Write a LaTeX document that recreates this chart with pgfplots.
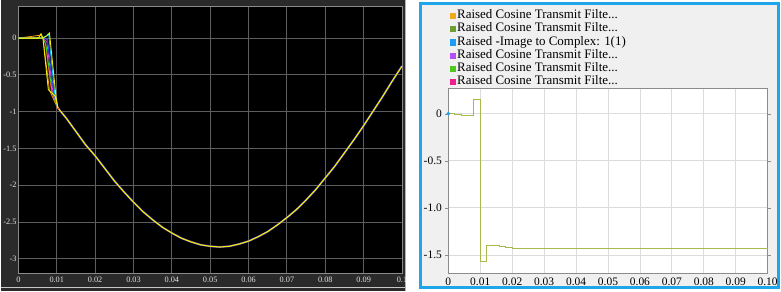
\documentclass[border=0pt]{standalone}
\usepackage{fontspec}
\setmainfont{Liberation Serif}
\usepackage{pgfplots}
\pgfplotsset{compat=1.18}
\usepackage{pgfplotstable}

\definecolor{panelbg}{HTML}{2A2A2A}
\definecolor{scgrid}{HTML}{5E5E5E}
\definecolor{scframe}{HTML}{8A8A8A}
\definecolor{sclabel}{HTML}{E2E2E2}
\definecolor{syel}{HTML}{F0F000}
\definecolor{scyan}{HTML}{00C8FF}
\definecolor{sblue}{HTML}{3050FF}
\definecolor{smag}{HTML}{E040E0}
\definecolor{sred}{HTML}{FF3030}
\definecolor{sgreen}{HTML}{30E030}
\definecolor{sorange}{HTML}{FF9900}
\definecolor{sband}{HTML}{6040D0}
\definecolor{bluebord}{HTML}{1EA5EA}
\definecolor{rpbg}{HTML}{F0F0F0}
\definecolor{rgrid}{HTML}{DCDCDC}
\definecolor{raxis}{HTML}{8C8C8C}
\definecolor{lorange}{HTML}{F0A81C}
\definecolor{lolive}{HTML}{6EA030}
\definecolor{lblue}{HTML}{1E9BF5}
\definecolor{lpurple}{HTML}{B450F0}
\definecolor{lgreen}{HTML}{50C81E}
\definecolor{lpink}{HTML}{F01E8C}
\definecolor{stepcol}{HTML}{A8B84A}

\pgfplotstableread{
x y
0.0103 -0.95
0.0125 -1.09
0.015 -1.27
0.0175 -1.45
0.02 -1.60
0.0225 -1.77
0.025 -1.94
0.0275 -2.09
0.03 -2.23
0.0325 -2.36
0.035 -2.47
0.0375 -2.57
0.04 -2.65
0.0425 -2.72
0.045 -2.77
0.0475 -2.81
0.05 -2.83
0.0525 -2.84
0.055 -2.83
0.0575 -2.80
0.06 -2.76
0.0625 -2.70
0.065 -2.63
0.0675 -2.54
0.07 -2.44
0.0725 -2.33
0.075 -2.20
0.0775 -2.06
0.08 -1.90
0.0825 -1.74
0.085 -1.56
0.0875 -1.38
0.09 -1.19
0.0925 -0.99
0.095 -0.79
0.0975 -0.58
0.1 -0.38
}\tail

\pgfplotstableread{
x y
0 0.0
0.002 -0.01
0.004 -0.025
0.006 -0.015
0.008 0.146
0.01 -1.571
0.012 -1.405
0.0139 -1.395
0.016 -1.41
0.018 -1.42
0.02 -1.43
0.1 -1.43
}\steps

\begin{document}
\begin{tikzpicture}
\path (0bp,0bp) rectangle (781bp,292bp);
\fill[panelbg] (0bp,0bp) rectangle (405bp,292bp);
\draw[gray!60, line width=1bp] (405.5bp,0bp) -- (405.5bp,292bp);
\draw[gray!45, line width=0.8bp] (0bp,4.5bp) -- (405bp,4.5bp);
\draw[bluebord, line width=3bp, fill=rpbg] (420.5bp,3.5bp) rectangle (779.5bp,288.5bp);

\begin{axis}[
  at={(17bp,18bp)}, anchor=south west, scale only axis,
  width=385bp, height=268bp,
  xmin=0, xmax=0.1, ymin=-3.2, ymax=0.43,
  axis background/.style={fill=black},
  grid=major, major grid style={scgrid, line width=0.9bp},
  axis line style={draw=scframe, line width=0.8bp},
  tick style={draw=none},
  xtick={0,0.01,0.02,0.03,0.04,0.05,0.06,0.07,0.08,0.09,0.1},
  xticklabels={0,0.01,0.02,0.03,0.04,0.05,0.06,0.07,0.08,0.09,0.1},
  ytick={-3,-2.5,-2,-1.5,-1,-0.5,0},
  yticklabels={-3,-2.5,-2,-1.5,-1,-0.5,0},
  ticklabel style={font=\fontsize{8.3bp}{10bp}\selectfont, text=sclabel},
  xticklabel style={yshift=0.5bp},
  yticklabel style={xshift=1.5bp},
]
\addplot[sband, line width=1.9bp] table {\tail};
\addplot[syel, line width=1.1bp] table {\tail};
\addplot[sorange, line width=0.8bp] coordinates {(0,0) (0.0058,0.04) (0.0064,0) (0.0081,-0.71) (0.0102,-0.95)};
\addplot[sred, line width=0.8bp] coordinates {(0,0) (0.0064,0) (0.0070,-0.06) (0.0086,-0.72) (0.0105,-0.97)};
\addplot[sgreen, line width=0.8bp] coordinates {(0,0) (0.0064,0) (0.0072,-0.10) (0.0088,-0.74) (0.0103,-0.95)};
\addplot[smag, line width=0.8bp] coordinates {(0,0) (0.0064,0) (0.0074,-0.05) (0.0090,-0.74) (0.0103,-0.95)};
\addplot[sblue, line width=0.8bp] coordinates {(0,0) (0.0064,0) (0.0076,-0.02) (0.0092,-0.75) (0.0103,-0.95)};
\addplot[scyan, line width=0.8bp] coordinates {(0,0) (0.0062,0) (0.0079,0.05) (0.0095,-0.77) (0.0103,-0.95)};
\addplot[syel, line width=0.9bp] coordinates {(0,0) (0.0052,0) (0.0059,0.06) (0.0064,0) (0.0078,-0.70) (0.0096,-0.79) (0.0103,-0.95)};
\addplot[syel, line width=0.9bp] coordinates {(0,0) (0.0064,0) (0.0074,0.03) (0.0081,0.07) (0.0098,-0.80) (0.0103,-0.95)};
\end{axis}

\begin{axis}[
  at={(448.5bp,18.7bp)}, anchor=south west, scale only axis,
  width=320.5bp, height=185.3bp,
  xmin=0, xmax=0.1, ymin=-1.69, ymax=0.27,
  axis background/.style={fill=white},
  grid=major, major grid style={rgrid, line width=0.8bp},
  axis line style={draw=raxis},
  tick align=outside, major tick length=3bp,
  xtick style={draw=none}, ytick style={draw=raxis},
  xtick={0,0.01,0.02,0.03,0.04,0.05,0.06,0.07,0.08,0.09,0.1},
  xticklabels={0,0.01,0.02,0.03,0.04,0.05,0.06,0.07,0.08,0.09,0.10},
  ytick={-1.5,-1,-0.5,0},
  yticklabels={-1.5,-1.0,-0.5,0},
  ticklabel style={font=\fontsize{11.5bp}{13bp}\selectfont, text=black},
  xticklabel style={yshift=1bp},
  clip=false,
  legend image code/.code={\fill[#1] (0bp,-2.6bp) rectangle (5.2bp,2.6bp);},
  legend cell align=left,
  legend style={at={(0.005,1.43)}, anchor=north west, draw=none, fill=none,
    inner sep=0bp, row sep=0bp,
    font=\fontsize{13bp}{15bp}\selectfont,
    nodes={inner xsep=1.4bp, inner ysep=0bp, text height=9.6bp, text depth=3.7bp}},
]
\addlegendimage{lorange}
\addlegendentry{Raised Cosine Transmit Filte...}
\addlegendimage{lolive}
\addlegendentry{Raised Cosine Transmit Filte...}
\addlegendimage{lblue}
\addlegendentry{Raised -Image to Complex: 1(1)}
\addlegendimage{lpurple}
\addlegendentry{Raised Cosine Transmit Filte...}
\addlegendimage{lgreen}
\addlegendentry{Raised Cosine Transmit Filte...}
\addlegendimage{lpink}
\addlegendentry{Raised Cosine Transmit Filte...}
\addplot[stepcol, const plot, line width=1bp, forget plot] table {\steps};
\addplot[lblue, only marks, mark=*, mark size=1.6bp, forget plot] coordinates {(0,0)};
\end{axis}
\end{tikzpicture}
\end{document}
